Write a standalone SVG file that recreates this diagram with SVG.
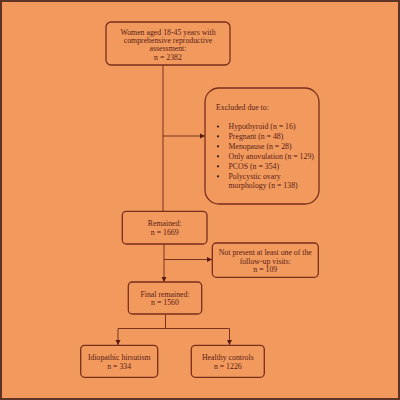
<svg xmlns="http://www.w3.org/2000/svg" width="400" height="400" viewBox="0 0 400 400">
<defs>
<style>
.box{fill:none;stroke:#7a2e1c;stroke-width:1.3}
.ln{fill:none;stroke:#7a3320;stroke-width:1}
.t{font-family:"Liberation Serif","Times New Roman",serif;font-size:7.8px;fill:#5a1a14}
.c{text-anchor:middle}
</style>
<marker id="ah" markerWidth="6" markerHeight="6" refX="5" refY="3" orient="auto" markerUnits="userSpaceOnUse">
<path d="M0,0.5 L5,3 L0,5.5 Z" fill="#5a1a14"/>
</marker>
</defs>
<rect x="0" y="0" width="400" height="400" fill="#f29a5e"/>
<rect x="1" y="1" width="398" height="398" fill="none" stroke="#5e3325" stroke-width="2"/>
<g id="connectors">
<path class="ln" d="M163,65 V211"/>
<path class="ln" d="M163,136 H205" marker-end="url(#ah)"/>
<path class="ln" d="M164,244 V282" marker-end="url(#ah)"/>
<path class="ln" d="M164,259.5 H212" marker-end="url(#ah)"/>
<path class="ln" d="M165.5,314 V328.5"/>
<path class="ln" d="M118,328.5 H229.5"/>
<path class="ln" d="M118,328.5 V345" marker-end="url(#ah)"/>
<path class="ln" d="M229.5,328.5 V345" marker-end="url(#ah)"/>
</g>
<g id="n1">
<rect class="box" x="106" y="22" width="124" height="43" rx="5"/>
<text class="t c" x="168" y="34.5">Women aged 18-45 years with</text>
<text class="t c" x="168" y="43">comprehensive reproductive</text>
<text class="t c" x="168" y="51.3">assessment:</text>
<text class="t c" x="168" y="59.8">n = 2382</text>
</g>
<g id="excluded">
<rect class="box" x="205" y="88" width="114" height="116" rx="14"/>
<text class="t" x="216" y="110">Excluded due to:</text>
<g class="t">
<circle cx="218" cy="126.5" r="1.1" fill="#2a1a14"/>
<circle cx="218" cy="136.3" r="1.1" fill="#2a1a14"/>
<circle cx="218" cy="146.3" r="1.1" fill="#2a1a14"/>
<circle cx="218" cy="156.3" r="1.1" fill="#2a1a14"/>
<circle cx="218" cy="166.3" r="1.1" fill="#2a1a14"/>
<circle cx="218" cy="176.3" r="1.1" fill="#2a1a14"/>
</g>
<text class="t" x="228.5" y="129.2">Hypothyroid (n = 16)</text>
<text class="t" x="228.5" y="139">Pregnant (n = 48)</text>
<text class="t" x="228.5" y="149">Menopause (n = 28)</text>
<text class="t" x="228.5" y="159">Only anovulation (n = 129)</text>
<text class="t" x="228.5" y="169">PCOS (n = 354)</text>
<text class="t" x="228.5" y="179">Polycystic ovary</text>
<text class="t" x="228.5" y="188">morphology (n = 138)</text>
</g>
<g id="remained">
<rect class="box" x="122.3" y="211.3" width="84.7" height="32.7" rx="4"/>
<text class="t c" x="164.7" y="226">Remained:</text>
<text class="t c" x="164.7" y="235">n = 1669</text>
</g>
<g id="notpresent">
<rect class="box" x="212.3" y="243" width="106" height="34.3" rx="4"/>
<text class="t c" x="265.3" y="255">Not present at least one of the</text>
<text class="t c" x="265.3" y="263.7">follow-up visits:</text>
<text class="t c" x="265.3" y="272">n = 109</text>
</g>
<g id="final">
<rect class="box" x="128.3" y="282" width="73.4" height="32" rx="4"/>
<text class="t c" x="165" y="296.7">Final remained:</text>
<text class="t c" x="165" y="305.4">n = 1560</text>
</g>
<g id="idiopathic">
<rect class="box" x="80.7" y="345.3" width="77" height="32" rx="4"/>
<text class="t c" x="119.2" y="360">Idiopathic hirsutism</text>
<text class="t c" x="119.2" y="369">n = 334</text>
</g>
<g id="healthy">
<rect class="box" x="191.3" y="345.3" width="73" height="32" rx="4"/>
<text class="t c" x="227.8" y="360">Healthy controls</text>
<text class="t c" x="227.8" y="369">n = 1226</text>
</g>
</svg>
